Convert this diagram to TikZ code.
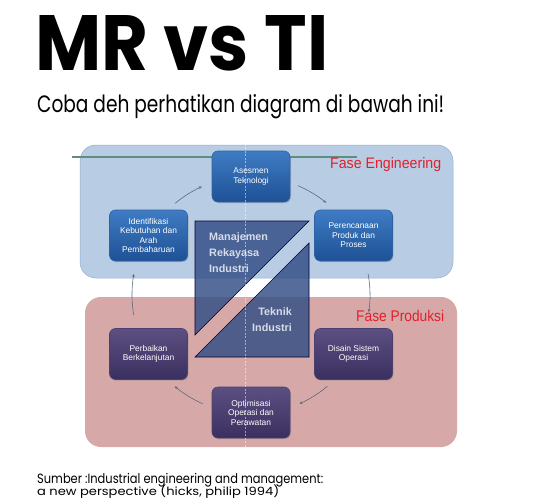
\documentclass[tikz,border=0pt]{standalone}
\usepackage{fontspec}
\setmainfont{Liberation Sans}
\newfontfamily\poppins{Poppins}
\usetikzlibrary{arrows.meta,shadows,calc}
\definecolor{phaseblue}{HTML}{B8CCE4}
\definecolor{phaseblueline}{HTML}{93AED2}
\definecolor{phasered}{HTML}{D6A8A8}
\definecolor{topA}{HTML}{3F7CC4}
\definecolor{topB}{HTML}{1E5195}
\definecolor{topline}{HTML}{2E62A6}
\definecolor{botA}{HTML}{5C4F82}
\definecolor{botB}{HTML}{3A305F}
\definecolor{botline}{HTML}{4B4072}
\definecolor{sqfill}{RGB}{50,77,133}
\definecolor{sqtext}{HTML}{D6DCE8}
\definecolor{fasered}{HTML}{E3202B}
\definecolor{arrowgray}{HTML}{56647A}
\definecolor{greenline}{HTML}{5F8E7E}
\tikzset{
  topbox/.style={rounded corners=6pt, top color=topA, bottom color=topB, draw=topline, line width=0.6pt,
    minimum width=78pt, minimum height=51pt, inner sep=1pt, text=white, align=center,
    font=\fontsize{8.4}{9.5}\selectfont,
    drop shadow={opacity=0.35, shadow xshift=1pt, shadow yshift=-1.2pt}},
  botbox/.style={topbox, top color=botA, bottom color=botB, draw=botline},
  cyc/.style={draw=arrowgray, line width=0.55pt, -{Stealth[length=3.2pt,width=2.6pt]}},
  sqtri/.style={fill=sqfill, fill opacity=0.82, draw=black!80!blue, line width=0.6pt},
  sqlabel/.style={text=sqtext, inner sep=0pt, font=\bfseries\fontsize{10.8}{16}\selectfont},
  faselabel/.style={text=fasered, inner sep=0pt}
}
\begin{document}
\begin{tikzpicture}[x=1pt,y=-1pt]
\useasboundingbox (0,0) rectangle (540,500);
\fill[white] (0,0) rectangle (540,500);

% title and subtitle
\node[anchor=south west, inner sep=0pt] (title) at (35,71.7)
  {\resizebox{293pt}{55pt}{\poppins\bfseries MR vs TI}};
\node[anchor=base west, inner sep=0pt] (subtitle) at (37,112.3)
  {\resizebox{407pt}{18pt}{\poppins Coba deh perhatikan diagram di bawah ini!}};

% phase panels
\draw[fill=phaseblue, draw=phaseblueline, line width=0.5pt, rounded corners=16pt] (80,145) rectangle (453,278);
\fill[phasered, rounded corners=16pt] (85,297) rectangle (457,447);
\draw[greenline, line width=1.6pt] (72,157) -- (357,157);

\node[faselabel, anchor=base west] (fe) at (330,168)
  {\resizebox{111pt}{11pt}{Fase Engineering}};
\node[faselabel, anchor=base west] (fp) at (356,321)
  {\resizebox{88pt}{11.2pt}{Fase Produksi}};

% cycle arrows on a circle
\coordinate (cc) at (251,295);
\coordinate (a1) at ($(cc)+(230.4:119)$);
\coordinate (a2) at ($(cc)+(293.3:119)$);
\coordinate (a3) at ($(cc)+(349.7:119)$);
\coordinate (a4) at ($(cc)+(50.1:119)$);
\coordinate (a5) at ($(cc)+(114:119)$);
\coordinate (a6) at ($(cc)+(170.3:119)$);
\draw[cyc] (a1) arc[start angle=230.4, end angle=245.6, radius=119];
\draw[cyc] (a2) arc[start angle=293.3, end angle=309.2, radius=119];
\draw[cyc] (a3) arc[start angle=349.7, end angle=368.3, radius=119];
\draw[cyc] (a4) arc[start angle=50.1, end angle=66, radius=119];
\draw[cyc] (a5) arc[start angle=114, end angle=129.9, radius=119];
\draw[cyc] (a6) arc[start angle=170.3, end angle=190.2, radius=119];

% central split square
\draw[sqtri] (195,221) -- (309,221) -- (195,335) -- cycle;
\draw[sqtri] (309,243) -- (309,357) -- (195,357) -- cycle;
\node[sqlabel, anchor=west, align=left] (mri) at (209,253) {Manajemen\\Rekayasa\\Industri};
\node[sqlabel, anchor=east, align=right] (ti) at (292,320) {Teknik\\Industri};

% process boxes
\node[topbox] (ases) at (251,176.5) {Asesmen\\Teknologi};
\node[topbox] (iden) at (148.5,235.5) {Identifikasi\\Kebutuhan dan\\Arah\\Pembaharuan};
\node[topbox] (pere) at (353.5,235.5) {Perencanaan\\Produk dan\\Proses};
\node[botbox] (perb) at (148.5,354) {Perbaikan\\Berkelanjutan};
\node[botbox] (disa) at (353.5,354) {Disain Sistem\\Operasi};
\node[botbox] (opti) at (251,412.5) {Optimisasi\\Operasi dan\\Perawatan};

% faint dashed guide
\draw[white, opacity=0.5, line width=0.5pt, dash pattern=on 2pt off 1.5pt] (245,140) -- (245,447);

% source
\node[anchor=base west, inner sep=0pt] (src1) at (37,483)
  {\resizebox{286pt}{10.2pt}{\poppins Sumber :Industrial engineering and management:}};
\node[anchor=base west, inner sep=0pt] (src2) at (37,495.6)
  {\resizebox{242pt}{10.6pt}{\poppins a new perspective (hicks, philip 1994)}};
\end{tikzpicture}
\end{document}
